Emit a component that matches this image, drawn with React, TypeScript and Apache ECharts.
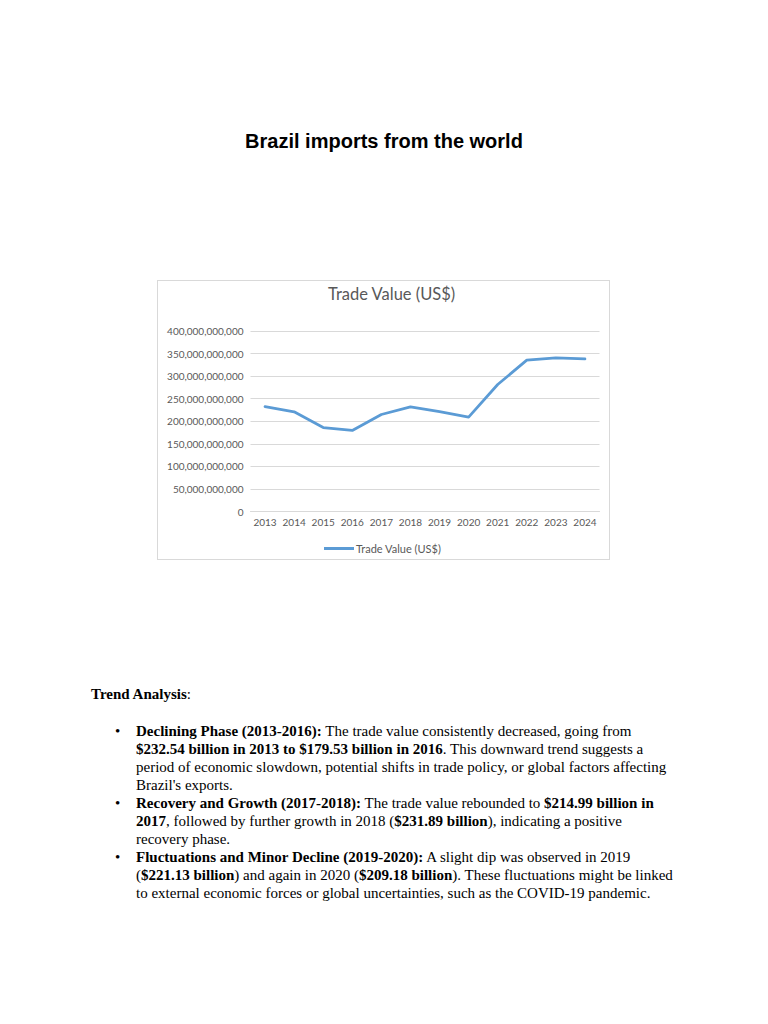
import React, { useEffect, useRef } from "react";
import * as echarts from "echarts";

const years = ["2013", "2014", "2015", "2016", "2017", "2018", "2019", "2020", "2021", "2022", "2023", "2024"];
const tradeValues = [
  232540000000, 221000000000, 186000000000, 179530000000, 214990000000, 231890000000,
  221130000000, 209180000000, 281500000000, 335500000000, 340500000000, 338000000000,
];
const seriesName = "Trade Value (US$)";
const pageTitle = "Brazil imports from the world";

type Seg = [string, boolean];
const analysisLines: { top: number; bullet?: boolean; segs: Seg[] }[] = [
  { top: 722, bullet: true, segs: [["Declining Phase (2013-2016):", true], [" The trade value consistently decreased, going from", false]] },
  { top: 740, segs: [["$232.54 billion in 2013 to $179.53 billion in 2016", true], [". This downward trend suggests a", false]] },
  { top: 758, segs: [["period of economic slowdown, potential shifts in trade policy, or global factors affecting", false]] },
  { top: 776, segs: [["Brazil's exports.", false]] },
  { top: 794, bullet: true, segs: [["Recovery and Growth (2017-2018):", true], [" The trade value rebounded to ", false], ["$214.99 billion in", true]] },
  { top: 812, segs: [["2017", true], [", followed by further growth in 2018 (", false], ["$231.89 billion", true], ["), indicating a positive", false]] },
  { top: 830, segs: [["recovery phase.", false]] },
  { top: 848, bullet: true, segs: [["Fluctuations and Minor Decline (2019-2020):", true], [" A slight dip was observed in 2019", false]] },
  { top: 866, segs: [["(", false], ["$221.13 billion", true], [") and again in 2020 (", false], ["$209.18 billion", true], ["). These fluctuations might be linked", false]] },
  { top: 884, segs: [["to external economic forces or global uncertainties, such as the COVID-19 pandemic.", false]] },
];

function Chart() {
  const ref = useRef<HTMLDivElement>(null);
  useEffect(() => {
    if (!ref.current) return;
    const chart = echarts.init(ref.current, null, { renderer: "svg" });
    const font = "Lato, 'Open Sans', sans-serif";
    chart.setOption({
      animation: false,
      textStyle: { fontFamily: font },
      title: {
        text: seriesName,
        left: 170,
        top: 4,
        padding: 0,
        textStyle: { fontFamily: font, fontSize: 16.5, fontWeight: "normal", color: "#595959", lineHeight: 17 },
      },
      legend: {
        data: [{ name: seriesName, icon: "rect" }],
        left: 166,
        top: 262,
        itemWidth: 30,
        itemHeight: 3,
        padding: 0,
        textStyle: { fontFamily: font, fontSize: 11, color: "#595959", padding: [0, 0, 0, -3] },
      },
      grid: { left: 92.5, right: 9.5, top: 50, bottom: 47.5, containLabel: false },
      xAxis: {
        type: "category",
        data: years,
        boundaryGap: true,
        axisLine: { show: true, lineStyle: { color: "#d9d9d9", width: 1 } },
        axisTick: { show: false },
        axisLabel: { color: "#595959", fontSize: 10, fontFamily: font, margin: 5, interval: 0, hideOverlap: false },
      },
      yAxis: {
        type: "value",
        min: 0,
        max: 400000000000,
        interval: 50000000000,
        axisLine: { show: false },
        axisTick: { show: false },
        splitLine: { lineStyle: { color: "#d9d9d9", width: 1 } },
        axisLabel: {
          color: "#595959",
          fontSize: 10,
          fontFamily: font,
          margin: 7,
          formatter: (v: number) => v.toLocaleString("en-US"),
        },
      },
      series: [
        {
          name: seriesName,
          type: "line",
          data: tradeValues,
          symbol: "none",
          lineStyle: { color: "#5b9bd5", width: 2.75, cap: "round", join: "round" },
          itemStyle: { color: "#5b9bd5" },
        },
      ],
    });
    return () => chart.dispose();
  }, []);
  return <div ref={ref} style={{ width: 451, height: 278 }} />;
}

export default function App() {
  return (
    <div style={{ position: "absolute", left: 0, top: 0, width: 768, height: 1024, background: "#fff", overflow: "hidden" }}>
      <div
        style={{
          position: "absolute",
          left: 0,
          width: 768,
          top: 128,
          textAlign: "center",
          fontFamily: "'Liberation Sans', Arial, sans-serif",
          fontWeight: "bold",
          fontSize: 20,
          lineHeight: "26px",
          color: "#000",
        }}
      >
        {pageTitle}
      </div>
      <div style={{ position: "absolute", left: 157, top: 280, width: 451, height: 278, border: "1px solid #d9d9d9" }}>
        <Chart />
      </div>
      <div
        style={{
          position: "absolute",
          left: 91,
          top: 685,
          fontFamily: "'Liberation Serif', 'Times New Roman', serif",
          fontSize: 15,
          lineHeight: "18px",
          color: "#000",
          whiteSpace: "nowrap",
        }}
      >
        <b>Trend Analysis</b>:
      </div>
      {analysisLines.map((ln, i) => (
        <React.Fragment key={i}>
          {ln.bullet && (
            <div
              style={{
                position: "absolute",
                left: 115,
                top: ln.top,
                fontFamily: "'Liberation Serif', serif",
                fontSize: 15,
                lineHeight: "18px",
              }}
            >
              •
            </div>
          )}
          <div
            style={{
              position: "absolute",
              left: 136,
              top: ln.top,
              fontFamily: "'Liberation Serif', 'Times New Roman', serif",
              fontSize: 15,
              lineHeight: "18px",
              color: "#000",
              whiteSpace: "nowrap",
            }}
          >
            {ln.segs.map(([t, b], j) => (b ? <b key={j}>{t}</b> : <span key={j}>{t}</span>))}
          </div>
        </React.Fragment>
      ))}
    </div>
  );
}
